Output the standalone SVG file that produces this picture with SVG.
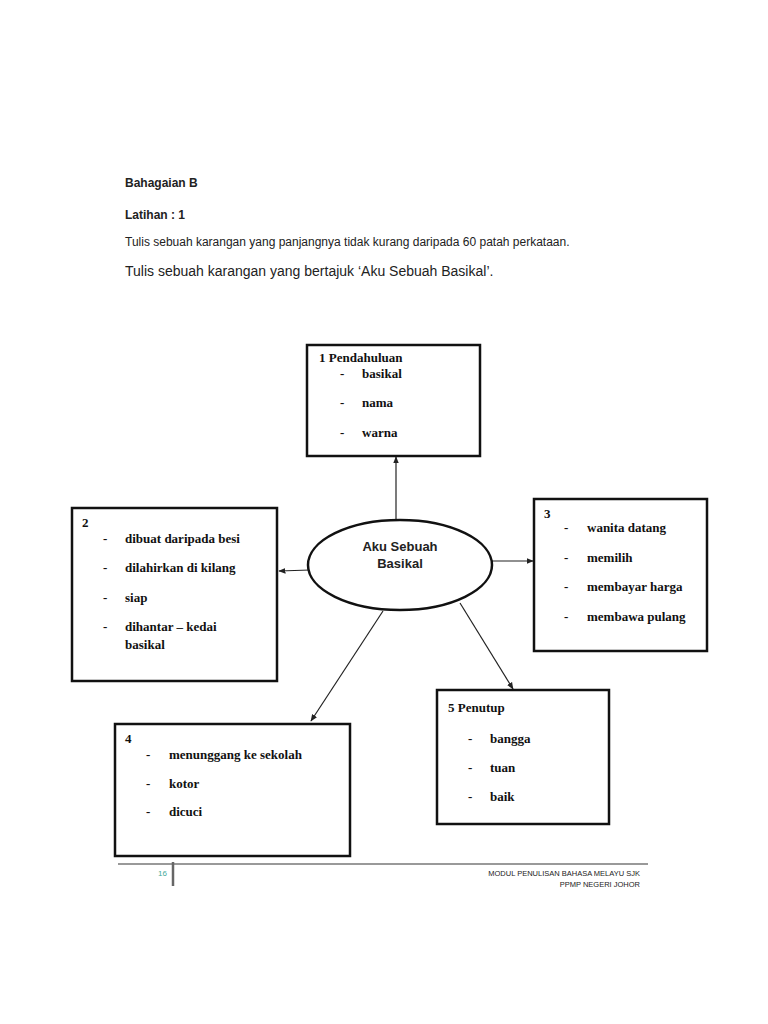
<svg xmlns="http://www.w3.org/2000/svg" width="768" height="1024" viewBox="0 0 768 1024" xml:space="preserve">
<style>
.s{font-family:"Liberation Sans",Arial,sans-serif;fill:#222}
.t{font-family:"Liberation Serif","Times New Roman",serif;font-weight:bold;font-size:13px;fill:#111}
.b{fill:#fff;stroke:#111;stroke-width:2.5}
.c{stroke:#222;stroke-width:1.2;fill:none;marker-end:url(#a)}
</style>
<defs><marker id="a" viewBox="0 0 10 10" refX="9" refY="5" markerWidth="6" markerHeight="6" orient="auto"><path d="M0,1L10,5L0,9z" fill="#222"/></marker></defs>
<rect width="768" height="1024" fill="#fff"/>
<text class="s" x="125" y="187" font-size="12" font-weight="bold">Bahagaian B</text>
<text class="s" x="125" y="219" font-size="12" font-weight="bold">Latihan : 1</text>
<text class="s" x="125" y="246" font-size="12">Tulis sebuah karangan yang panjangnya tidak kurang daripada 60 patah perkataan.</text>
<text class="s" x="125" y="276" font-size="14">Tulis sebuah karangan yang bertajuk ‘Aku Sebuah Basikal’.</text>
<g id="connectors">
<line class="c" x1="396" y1="520" x2="396" y2="457"/>
<line class="c" x1="310" y1="570" x2="279" y2="571"/>
<line class="c" x1="492" y1="561" x2="533" y2="561" stroke-width="2.5"/>
<line class="c" x1="383" y1="611" x2="311" y2="721"/>
<line class="c" x1="460" y1="603" x2="513" y2="689"/>
</g>
<g id="center"><ellipse cx="400" cy="565" rx="92" ry="45" class="b"/>
<text class="s" x="400" y="551" font-size="13" font-weight="bold" text-anchor="middle">Aku Sebuah</text>
<text class="s" x="400" y="568" font-size="13" font-weight="bold" text-anchor="middle">Basikal</text></g>
<g id="n1"><rect class="b" x="307" y="345" width="173" height="111"/>
<text class="t" x="319" y="362">1  Pendahuluan</text>
<text class="t" x="340" y="378">-</text><text class="t" x="362" y="378">basikal</text>
<text class="t" x="340" y="407">-</text><text class="t" x="362" y="407">nama</text>
<text class="t" x="340" y="437">-</text><text class="t" x="362" y="437">warna</text></g>
<g id="n2"><rect class="b" x="72" y="508" width="205" height="173"/>
<text class="t" x="82" y="527">2</text>
<text class="t" x="103" y="543">-</text><text class="t" x="125" y="543">dibuat daripada besi</text>
<text class="t" x="103" y="572">-</text><text class="t" x="125" y="572">dilahirkan di kilang</text>
<text class="t" x="103" y="602">-</text><text class="t" x="125" y="602">siap</text>
<text class="t" x="103" y="631">-</text><text class="t" x="125" y="631">dihantar – kedai</text>
<text class="t" x="125" y="649">basikal</text></g>
<g id="n3"><rect class="b" x="534" y="499" width="173" height="152"/>
<text class="t" x="544" y="518">3</text>
<text class="t" x="564" y="532">-</text><text class="t" x="587" y="532">wanita datang</text>
<text class="t" x="564" y="562">-</text><text class="t" x="587" y="562">memilih</text>
<text class="t" x="564" y="591">-</text><text class="t" x="587" y="591">membayar harga</text>
<text class="t" x="564" y="621">-</text><text class="t" x="587" y="621">membawa pulang</text></g>
<g id="n4"><rect class="b" x="115" y="724" width="235" height="132"/>
<text class="t" x="125" y="743">4</text>
<text class="t" x="146" y="759">-</text><text class="t" x="169" y="759">menunggang  ke sekolah</text>
<text class="t" x="146" y="788">-</text><text class="t" x="169" y="788">kotor</text>
<text class="t" x="146" y="816">-</text><text class="t" x="169" y="816">dicuci</text></g>
<g id="n5"><rect class="b" x="437" y="690" width="172" height="134"/>
<text class="t" x="448" y="712">5  Penutup</text>
<text class="t" x="468" y="743">-</text><text class="t" x="490" y="743">bangga</text>
<text class="t" x="468" y="772">-</text><text class="t" x="490" y="772">tuan</text>
<text class="t" x="468" y="801">-</text><text class="t" x="490" y="801">baik</text></g>
<line x1="118" y1="864" x2="648" y2="864" stroke="#777" stroke-width="1.5"/>
<line x1="173" y1="862" x2="173" y2="886" stroke="#666" stroke-width="2.5"/>
<text class="s" x="167" y="876" font-size="8" style="fill:#4a9" text-anchor="end">16</text>
<text class="s" x="640" y="876" font-size="7.5" text-anchor="end">MODUL PENULISAN BAHASA MELAYU SJK</text>
<text class="s" x="640" y="887" font-size="7.5" text-anchor="end">PPMP NEGERI JOHOR</text>
</svg>
